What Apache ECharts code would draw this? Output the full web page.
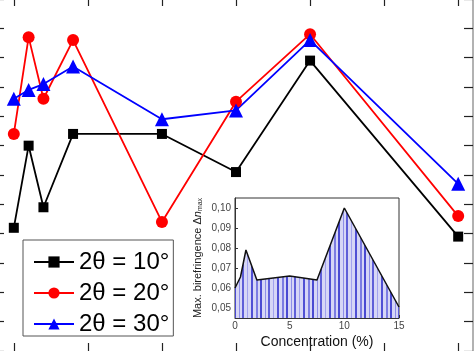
<!DOCTYPE html>
<html>
<head>
<meta charset="utf-8">
<script src="https://cdn.jsdelivr.net/npm/echarts@6/dist/echarts.min.js"></script>
<style>
html,body{margin:0;padding:0;background:#fff}
#chart{width:474px;height:351px}
</style>
</head>
<body>
<div id="chart"></div>
<script>
// concentration (%) and values per angle
var conc = [0, 0.5, 1, 2, 5, 7.5, 10, 15];
var deg10 = [0.042, 0.070, 0.049, 0.074, 0.074, 0.061, 0.099, 0.039];
var deg20 = [0.074, 0.107, 0.086, 0.106, 0.044, 0.085, 0.108, 0.046];
var deg30 = [0.086, 0.089, 0.091, 0.097, 0.079, 0.082, 0.106, 0.057];
// inset: max birefringence
var dnMax = [0.060, 0.0655, 0.079, 0.064, 0.066, 0.064, 0.100, 0.0505];
var mainXTicks = [0, 2.5, 5, 7.5, 10, 12.5, 15];
var insetXTicks = [0, 5, 10, 15];
var insetYTicks = [0.05, 0.06, 0.07, 0.08, 0.09, 0.10];
var names = ['2θ = 10°', '2θ = 20°', '2θ = 30°'];

var font = '"Liberation Sans", Arial, sans-serif';

function pairs(xs, ys) {
	var out = [];
	for (var i = 0; i < xs.length; i++) {
		out.push([xs[i], ys[i]]);
	}
	return out;
}

//stripe fill like the inset
function stripes() {
	var c = document.createElement('canvas');
	c.width = 26;
	c.height = 8;
	var ctx = c.getContext('2d');
	ctx.fillStyle = '#d6d6f6';
	ctx.fillRect(0, 0, 26, 8);
	var s = [[0, 2, '#4a4ad2'], [5, 1, '#8e8ee8'], [8, 2, '#5e5ed8'], [13, 1, '#a2a2ee'], [17, 2, '#5050d4'], [22, 2, '#7c7ce2']];
	for (var i = 0; i < s.length; i++) {
		ctx.fillStyle = s[i][2];
		ctx.fillRect(s[i][0], 0, s[i][1], 8);
	}
	return c;
}

var mychart = echarts.init(document.getElementById('chart'));

function lineSeries(name, data, color, symbol, size) {
	return {
		name: name,
		type: 'line',
		xAxisIndex: 0,
		yAxisIndex: 0,
		data: pairs(conc, data),
		symbol: symbol,
		symbolSize: size,
		lineStyle: { color: color, width: 1.8 },
		itemStyle: { color: color },
		animation: false
	};
}

var option = {
	animation: false,
	textStyle: { fontFamily: font },
	grid: [
		{ left: -1, right: 1, top: -1, bottom: 0, outerBoundsMode: 'none' },
		{ left: 235, top: 198, width: 164, height: 120, show: true, borderColor: '#333', borderWidth: 1, backgroundColor: '#fff', outerBoundsMode: 'none' }
	],
	legend: {
		data: names,
		orient: 'vertical',
		left: 23,
		top: 240,
		padding: [10, 4, 0, 10],
		itemGap: 7,
		itemWidth: 40,
		itemHeight: 14,
		borderColor: '#555',
		borderWidth: 1,
		backgroundColor: '#fff',
		textStyle: { fontSize: 24, lineHeight: 24, color: '#000', fontFamily: font }
	},
	xAxis: [
		{
			type: 'value', gridIndex: 0, position: 'bottom', min: -0.5, max: 15.5,
			axisLine: { show: false, onZero: false },
			axisTick: { inside: true, length: 8, customValues: mainXTicks, lineStyle: { color: '#222', width: 1.2 } },
			axisLabel: { show: false },
			splitLine: { show: false }
		},
		{
			type: 'value', gridIndex: 0, position: 'top', min: -0.5, max: 15.5,
			axisLine: { show: false, onZero: false },
			axisTick: { inside: true, length: 7, customValues: mainXTicks, lineStyle: { color: '#222', width: 1.2 } },
			axisLabel: { show: false },
			splitLine: { show: false }
		},
		{
			type: 'value', gridIndex: 1, min: 0, max: 15,
			name: 'Concentration (%)',
			nameLocation: 'middle',
			nameGap: 17,
			nameTextStyle: { fontSize: 14, color: '#111', fontFamily: font },
			axisLine: { onZero: false, lineStyle: { color: '#333' } },
			axisTick: { inside: true, length: 3, customValues: insetXTicks, lineStyle: { color: '#333' } },
			axisLabel: { customValues: insetXTicks, fontSize: 10, color: '#444', margin: 3 },
			splitLine: { show: false }
		}
	],
	yAxis: [
		{
			type: 'value', gridIndex: 0, position: 'left', min: 0, max: 0.12, interval: 0.01,
			axisLine: { show: false, onZero: false },
			axisTick: { inside: true, length: 5, lineStyle: { color: '#222', width: 1.2 } },
			axisLabel: { show: false },
			splitLine: { show: false }
		},
		{
			type: 'value', gridIndex: 0, position: 'right', min: 0, max: 0.12, interval: 0.01,
			axisLine: { show: true, onZero: false, lineStyle: { color: '#999', width: 1.5 } },
			axisTick: { inside: true, length: 9, lineStyle: { color: '#222', width: 1.2 } },
			axisLabel: { show: false },
			splitLine: { show: false }
		},
		{
			type: 'value', gridIndex: 1, min: 0.045, max: 0.105,
			name: '{a|Max. birefringence Δ}{i|n}{s|max}',
			nameLocation: 'middle',
			nameRotate: 90,
			nameGap: 31,
			nameTextStyle: {
				color: '#222',
				rich: {
					a: { fontSize: 11, color: '#222', fontFamily: font },
					i: { fontSize: 11, color: '#222', fontStyle: 'italic', fontFamily: font },
					s: { fontSize: 7, color: '#222', fontFamily: font, verticalAlign: 'bottom', padding: [5, 0, 0, 0] }
				}
			},
			axisLine: { onZero: false, lineStyle: { color: '#333' } },
			axisTick: { inside: true, length: 3, customValues: insetYTicks, lineStyle: { color: '#333' } },
			axisLabel: {
				customValues: insetYTicks, fontSize: 10, color: '#444', margin: 4,
				formatter: function (v) { return v.toFixed(2).replace('.', ','); }
			},
			splitLine: { show: false }
		}
	],
	series: [
		lineSeries(names[0], deg10, '#000000', 'rect', 10),
		lineSeries(names[1], deg20, '#ff0000', 'circle', 12),
		lineSeries(names[2], deg30, '#0000ff', 'triangle', 14),
		{
			name: 'inset',
			type: 'line',
			xAxisIndex: 2,
			yAxisIndex: 2,
			data: pairs(conc, dnMax),
			symbol: 'none',
			lineStyle: { color: '#111', width: 1.5 },
			areaStyle: { origin: 'start', opacity: 1, color: { image: stripes(), repeat: 'repeat' } }
		}
	]
};
mychart.setOption(option);
</script>
</body>
</html>
